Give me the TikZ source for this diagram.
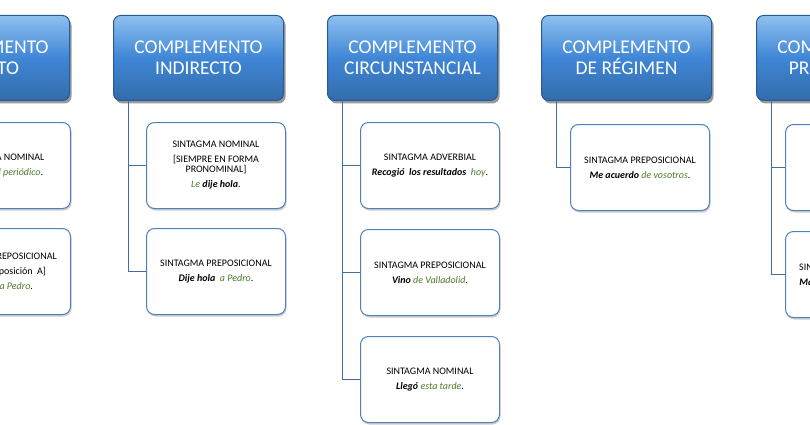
\documentclass[tikz,border=0pt]{standalone}
\usepackage{fontspec}
\setmainfont{Carlito}
\usetikzlibrary{shadows}
\definecolor{hb}{HTML}{3F86D6}
\definecolor{hl}{HTML}{8EC0F0}
\definecolor{hd}{HTML}{2A5A92}
\definecolor{cb}{HTML}{4F81BD}
\definecolor{gr}{HTML}{4E7A2A}
\begin{document}
\begin{tikzpicture}[x=1pt,y=-1pt,
  head/.style={draw=hd,line width=1pt,rounded corners=7pt,top color=hl,bottom color=hb!80!black,middle color=hb,
    minimum width=170pt,minimum height=85pt,anchor=north west,text=white,font=\fontsize{19.5}{21}\selectfont,align=center,
    drop shadow={shadow xshift=2pt,shadow yshift=-3pt,fill=black,opacity=0.4}},
  kid/.style={draw=cb,line width=1pt,rounded corners=8pt,fill=white,minimum width=139pt,minimum height=86pt,
    anchor=north west,align=center,font=\fontsize{10}{15}\selectfont,
    drop shadow={shadow xshift=1pt,shadow yshift=-2pt,fill=black,opacity=0.2}},
  con/.style={draw=cb!85!black,line width=1pt}]
\useasboundingbox (0,0) rectangle (810,425);
\clip (0,0) rectangle (810,425);
\newcommand{\gx}[1]{\textcolor{gr}{\itshape #1}}
\newcommand{\bx}[1]{\textbf{\itshape #1}}
% column 1
\node[head] (h1) at (-101,15) {COMPLEMENTO\\DIRECTO};
\node[kid] (c11) at (-69,122) {SINTAGMA NOMINAL\\\bx{Compra} \gx{el periódico}.};
\node[kid] (c12) at (-69,228) {SINTAGMA PREPOSICIONAL\\{[}con la preposición\ \ A{]}\\\bx{Saludé} \gx{a Pedro}.};
% column 2
\node[head] (h2) at (113,15) {COMPLEMENTO\\INDIRECTO};
\node[kid] (c21) at (146,122) {SINTAGMA NOMINAL\\{[}SIEMPRE EN FORMA\\[-5pt]PRONOMINAL{]}\\\gx{Le} \bx{dije hola}.};
\node[kid] (c22) at (146,228) {SINTAGMA PREPOSICIONAL\\\bx{Dije hola}\ \ \gx{a Pedro}.};
% column 3
\node[head] (h3) at (327,15) {COMPLEMENTO\\CIRCUNSTANCIAL};
\node[kid] (c31) at (360,122) {SINTAGMA ADVERBIAL\\\bx{Recogió\ \ los resultados}\ \ \gx{hoy}.};
\node[kid] (c32) at (360,229) {SINTAGMA PREPOSICIONAL\\\bx{Vino} \gx{de Valladolid}.};
\node[kid] (c33) at (360,336) {SINTAGMA NOMINAL\\\bx{Llegó} \gx{esta tarde}.};
% column 4
\node[head] (h4) at (541,15) {COMPLEMENTO\\DE RÉGIMEN};
\node[kid] (c41) at (570,124) {SINTAGMA PREPOSICIONAL\\\bx{Me acuerdo} \gx{de vosotros}.};
% column 5
\node[head] (h5) at (756,15) {COMPLEMENTO\\PREDICATIVO};
\node[kid] (c51) at (785,124) {SINTAGMA ADJETIVAL\\\bx{María llegó} \gx{cansada}.};
\node[kid] (c52) at (785,231) {SINTAGMA PREPOSICIONAL\\\bx{María está} \gx{de buen humor}.};
% connectors
\foreach \h/\kids in {h1/{c11,c12},h2/{c21,c22},h3/{c31,c32,c33},h4/{c41},h5/{c51,c52}}{
  \foreach \k in \kids {
    \draw[con] ([xshift=15pt]\h.south west) |- (\k.west);
  }
}
\end{tikzpicture}
\end{document}
